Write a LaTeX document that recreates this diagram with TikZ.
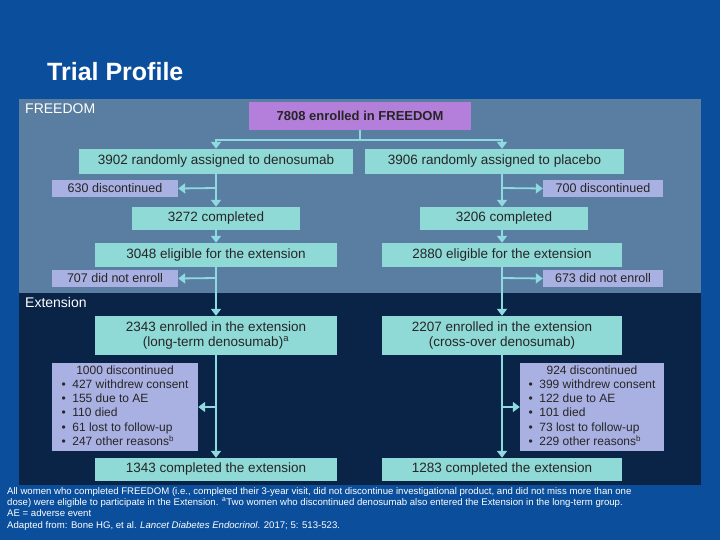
\documentclass[tikz,border=0pt]{standalone}
\usepackage{fontspec}
\setmainfont{Liberation Sans}
\usetikzlibrary{arrows.meta}
\definecolor{bg}{HTML}{0B4F9C}
\definecolor{fpanel}{HTML}{5A7EA2}
\definecolor{epanel}{HTML}{0A2448}
\definecolor{teal}{HTML}{8FD9D6}
\definecolor{lav}{HTML}{A9B0E2}
\definecolor{vio}{HTML}{B37FDB}
\definecolor{ln}{HTML}{8FD9E0}
\tikzset{
 bx/.style={inner sep=0pt,font=\fontsize{13.5}{15.5}\selectfont,text=black!85},
 sbx/.style={bx,font=\fontsize{12.5}{14}\selectfont},
 tbox/.style={bx,fill=teal},
 lbox/.style={sbx,fill=lav},
 conn/.style={draw=ln,line width=1.8pt},
 arr/.style={conn,-{Triangle[width=10pt,length=7pt]}}
}
\newcommand{\bxat}[6]{\node[#1,minimum width={#4-#2},minimum height={#5-#3}] (#6) at ({(#2+#4)/2},{(#3+#5)/2}) }
\begin{document}
\begin{tikzpicture}[x=1pt,y=-1pt]
\fill[bg] (0,0) rectangle (720,540);
\useasboundingbox (0,0) rectangle (720,540);
\node[anchor=west,text=white,font=\fontsize{25}{28}\selectfont\bfseries,inner sep=0pt] (title) at (47,72) {Trial Profile};
\fill[fpanel] (19,99) rectangle (701,293);
\fill[epanel] (19,293) rectangle (701,485);
\node[anchor=north west,text=white,font=\fontsize{14}{16}\selectfont,inner sep=0pt] (fl) at (25,104) {FREEDOM};
\node[anchor=north west,text=white,font=\fontsize{14}{16}\selectfont,inner sep=0pt] (el) at (25,297) {Extension};
\bxat{bx,fill=vio,font=\fontsize{13}{15}\selectfont\bfseries}{249}{102}{471}{130}{en} {7808 enrolled in FREEDOM};
\bxat{tbox}{79}{149}{353}{174}{ld} {3902 randomly assigned to denosumab};
\bxat{tbox}{365}{149}{624}{174}{rd} {3906 randomly assigned to placebo};
\bxat{lbox}{52}{180}{178}{197}{ldc} {630 discontinued};
\bxat{lbox}{543}{180}{663}{197}{rdc} {700 discontinued};
\bxat{tbox}{132}{207}{300}{230}{lc} {3272 completed};
\bxat{tbox}{420}{207}{588}{230}{rc} {3206 completed};
\bxat{tbox}{95}{243}{337}{267}{le} {3048 eligible for the extension};
\bxat{tbox}{382}{243}{622}{267}{re} {2880 eligible for the extension};
\bxat{lbox}{52}{270}{178}{287}{lne} {707 did not enroll};
\bxat{lbox}{543}{270}{663}{287}{rne} {673 did not enroll};
\bxat{tbox,align=center}{95}{316}{337}{355}{lx} {2343 enrolled in the extension\\(long-term denosumab)\textsuperscript{a}};
\bxat{tbox,align=center}{382}{316}{622}{355}{rx} {2207 enrolled in the extension\\(cross-over denosumab)};
\bxat{lbox,font=\fontsize{12}{14.3}\selectfont}{52}{363}{198}{451}{ldx} {\begin{tabular}{@{}l@{\ \ }l@{}}\multicolumn{2}{c}{1000 discontinued}\\ \textbullet&427 withdrew consent\\ \textbullet&155 due to AE\\ \textbullet&110 died\\ \textbullet&61 lost to follow-up\\ \textbullet&247 other reasons\textsuperscript{b}\end{tabular}};
\bxat{lbox,font=\fontsize{12}{14.3}\selectfont}{520}{363}{664}{451}{rdx} {\begin{tabular}{@{}l@{\ \ }l@{}}\multicolumn{2}{c}{924 discontinued}\\ \textbullet&399 withdrew consent\\ \textbullet&122 due to AE\\ \textbullet&101 died\\ \textbullet&73 lost to follow-up\\ \textbullet&229 other reasons\textsuperscript{b}\end{tabular}};
\bxat{tbox}{95}{458}{337}{481}{lf} {1343 completed the extension};
\bxat{tbox}{382}{458}{622}{481}{rf} {1283 completed the extension};
% connectors
\coordinate (s) at (360,140);
\draw[conn] (en.south) -- (s);
\draw[arr] (s) -| (ld.north -| 216,0);
\draw[arr] (s) -| (rd.north -| 502,0);
\foreach \a/\b/\x in {ld/lc/216,lc/le/216,le/lx/216,lx/lf/216,rd/rc/502,rc/re/502,re/rx/502,rx/rf/502}{
  \draw[arr] (\a.south -| \x,0) -- (\b.north -| \x,0);}
\draw[arr] (216,188) -- (ldc.east);
\draw[arr] (216,278) -- (lne.east);
\draw[arr] (216,407) -- (ldx.east |- 0,407);
\draw[arr] (502,188) -- (rdc.west);
\draw[arr] (502,278) -- (rne.west);
\draw[arr] (502,407) -- (rdx.west |- 0,407);
\node[anchor=north west,inner sep=0pt,text=white,align=left,font=\fontsize{9.6}{11.2}\selectfont] (fn) at (7,487) {All women who completed FREEDOM (i.e., completed their 3-year visit, did not discontinue investigational product, and did not miss more than one\\dose) were eligible to participate in the Extension. \textsuperscript{a}Two women who discontinued denosumab also entered the Extension in the long-term group.\\AE = adverse event};
\node[anchor=north west,inner sep=0pt,text=white,font=\fontsize{9.6}{11}\selectfont] (src) at (7,521) {Adapted from: Bone HG, et al. \textit{Lancet Diabetes Endocrinol}. 2017; 5: 513-523.};
\end{tikzpicture}
\end{document}
